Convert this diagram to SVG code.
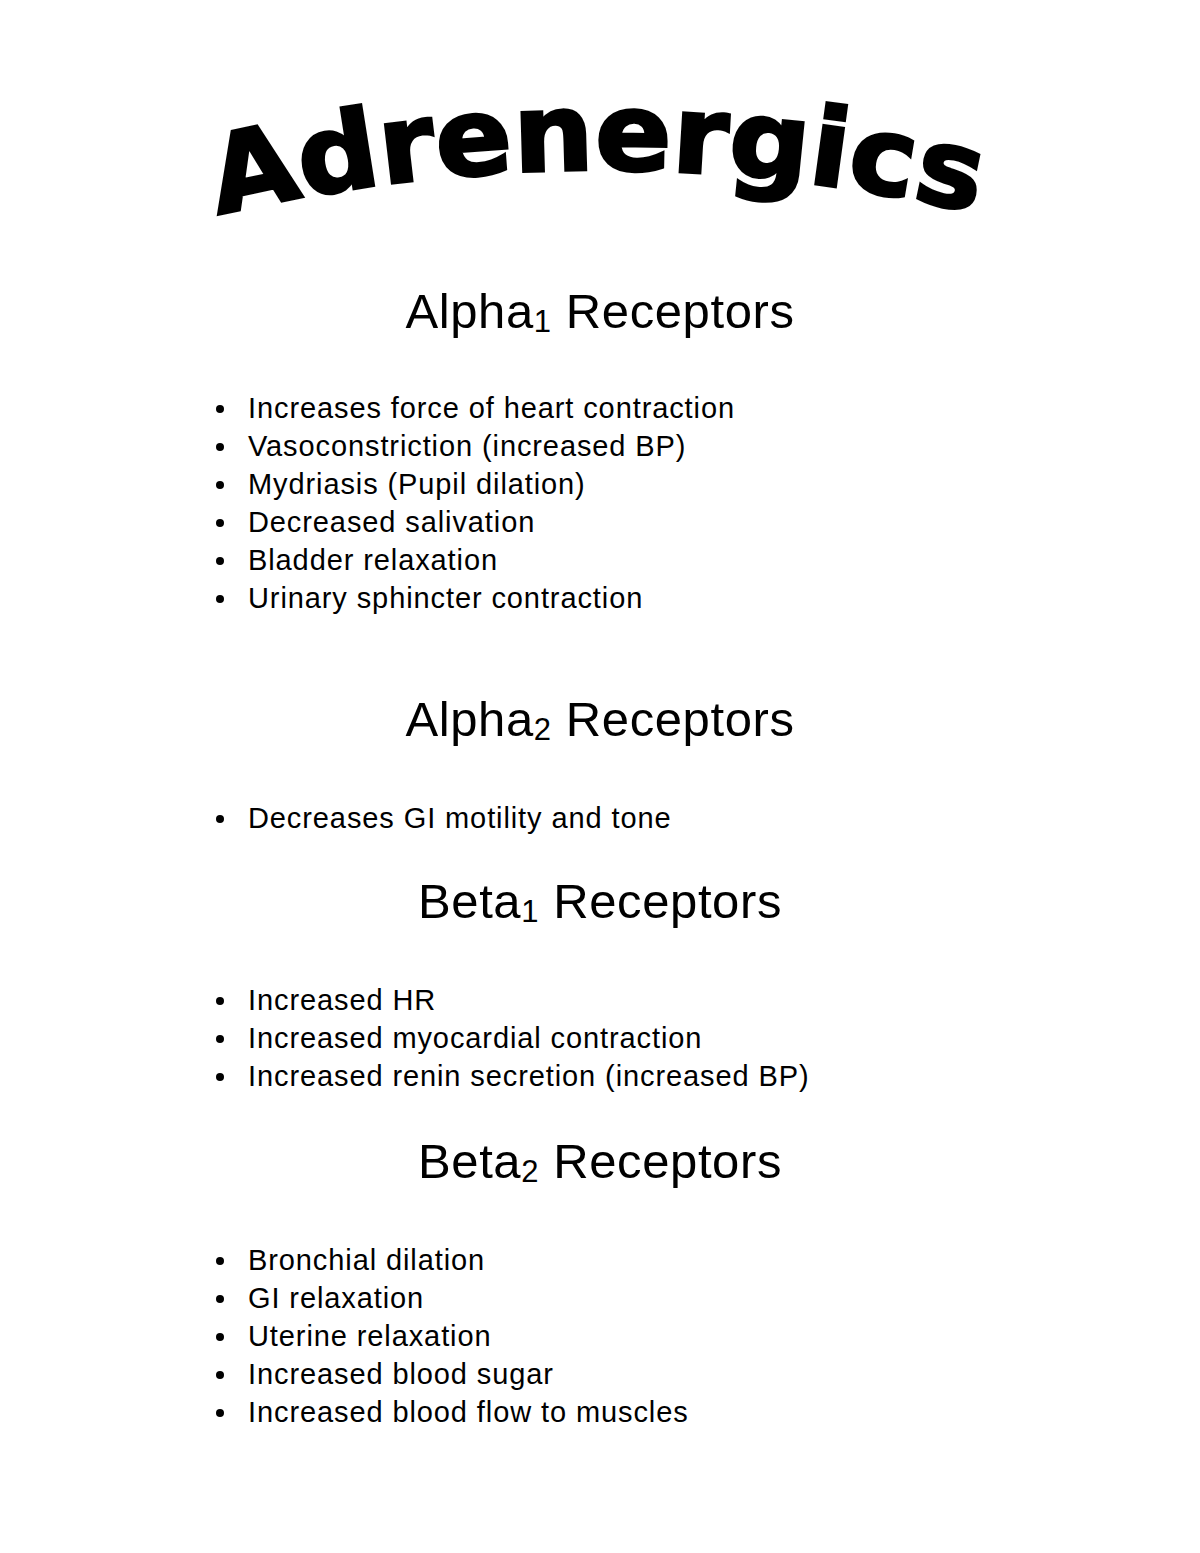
<svg xmlns="http://www.w3.org/2000/svg" width="1200" height="1553" viewBox="0 0 1200 1553">
<style>
.h{font-family:"Liberation Sans",Arial,sans-serif;font-size:49px;fill:#000;text-anchor:middle;letter-spacing:0.6px}
.s{font-size:31px}
.b{font-family:"Liberation Sans",Arial,sans-serif;font-size:29px;fill:#000;letter-spacing:0.9px}
.t{font-family:"DejaVu Sans",sans-serif;font-weight:bold;font-size:108px;fill:#000;stroke:#000;stroke-width:3}
</style>
<defs><path id="arc" d="M218,215 Q600,125 985,215"/></defs>
<rect width="1200" height="1553" fill="#fff"/>
<text class="t"><textPath href="#arc" textLength="765" lengthAdjust="spacingAndGlyphs">Adrenergics</textPath></text>
<text class="h" x="600" y="328">Alpha<tspan class="s" dy="4">1</tspan><tspan dy="-4"> Receptors</tspan></text>
<text class="h" x="600" y="736">Alpha<tspan class="s" dy="4">2</tspan><tspan dy="-4"> Receptors</tspan></text>
<text class="h" x="600" y="918">Beta<tspan class="s" dy="4">1</tspan><tspan dy="-4"> Receptors</tspan></text>
<text class="h" x="600" y="1178">Beta<tspan class="s" dy="4">2</tspan><tspan dy="-4"> Receptors</tspan></text>
<g fill="#000">
<circle cx="220" cy="409" r="4"/><circle cx="220" cy="447" r="4"/><circle cx="220" cy="485" r="4"/><circle cx="220" cy="523" r="4"/><circle cx="220" cy="561" r="4"/><circle cx="220" cy="599" r="4"/>
<circle cx="220" cy="819" r="4"/>
<circle cx="220" cy="1001" r="4"/><circle cx="220" cy="1039" r="4"/><circle cx="220" cy="1077" r="4"/>
<circle cx="220" cy="1261" r="4"/><circle cx="220" cy="1299" r="4"/><circle cx="220" cy="1337" r="4"/><circle cx="220" cy="1375" r="4"/><circle cx="220" cy="1413" r="4"/>
</g>
<g class="b">
<text x="248" y="418">Increases force of heart contraction</text>
<text x="248" y="456">Vasoconstriction (increased BP)</text>
<text x="248" y="494">Mydriasis (Pupil dilation)</text>
<text x="248" y="532">Decreased salivation</text>
<text x="248" y="570">Bladder relaxation</text>
<text x="248" y="608">Urinary sphincter contraction</text>
<text x="248" y="828">Decreases GI motility and tone</text>
<text x="248" y="1010">Increased HR</text>
<text x="248" y="1048">Increased myocardial contraction</text>
<text x="248" y="1086">Increased renin secretion (increased BP)</text>
<text x="248" y="1270">Bronchial dilation</text>
<text x="248" y="1308">GI relaxation</text>
<text x="248" y="1346">Uterine relaxation</text>
<text x="248" y="1384">Increased blood sugar</text>
<text x="248" y="1422">Increased blood flow to muscles</text>
</g>
</svg>
